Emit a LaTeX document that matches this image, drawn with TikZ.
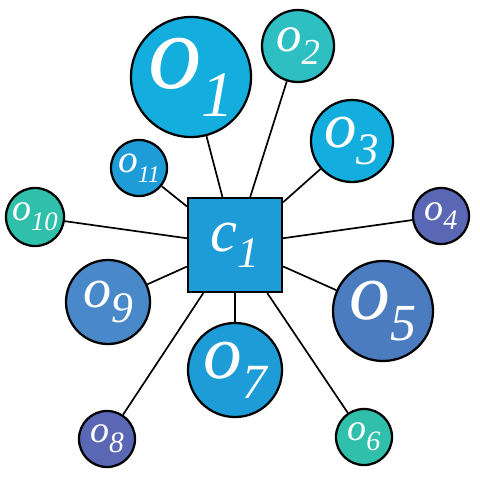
\documentclass[tikz,border=0pt]{standalone}
\usepackage{fontspec}
\setmainfont{Liberation Serif}
\usepackage{tikz}
\usetikzlibrary{positioning}

\definecolor{cyanA}{HTML}{13AEDE}
\definecolor{tealA}{HTML}{2EBFC3}
\definecolor{tealB}{HTML}{30BFAA}
\definecolor{blueA}{HTML}{1E9CD8}
\definecolor{blueB}{HTML}{4A89C9}
\definecolor{blueC}{HTML}{4B7CC0}
\definecolor{purp}{HTML}{5967B4}

% label: main size, sub size, letter, index
\newcommand{\olab}[4]{{\fontsize{#1}{#1}\selectfont\itshape #3\raisebox{-0.26em}{\fontsize{#2}{#2}\selectfont #4}}}

\begin{document}
\begin{tikzpicture}[x=0.025cm, y=-0.025cm,
      obj/.style={circle, draw=black, line width=1.6pt, text=white, inner sep=0pt, minimum size=#1*0.05cm},
      hub/.style={rectangle, draw=black, line width=1.6pt, fill=blueA, text=white, inner sep=0pt, minimum size=2.35cm},
      link/.style={line width=1.2pt, black},
    ]
    \useasboundingbox (0,0) rectangle (480,480);

    % Hub
    \node[hub] (c1) at (235,245) {\olab{43}{31}{c}{1}};

    % Objects
    \node[obj=60, fill=cyanA] (o1) at (191,77) {\olab{76}{46}{o}{1}};
    \node[obj=36, fill=tealA] (o2) at (298,46) {\olab{36}{26}{o}{2}};
    \node[obj=41, fill=cyanA] (o3) at (352,141) {\olab{46}{32}{o}{3}};
    \node[obj=28, fill=purp] (o4) at (441,216) {\olab{27}{20}{o}{4}};
    \node[obj=50, fill=blueC] (o5) at (383,311) {\olab{58}{37}{o}{5}};
    \node[obj=28, fill=tealB] (o6) at (364,437) {\olab{27}{20}{o}{6}};
    \node[obj=47, fill=blueA] (o7) at (235,370) {\olab{55}{35}{o}{7}};
    \node[obj=28, fill=purp] (o8) at (107,439) {\olab{27}{21}{o}{8}};
    \node[obj=42, fill=blueB] (o9) at (108,302) {\olab{40}{31}{o}{9}};
    \node[obj=29, fill=tealB] (o10) at (35,217) {\olab{27}{19}{o}{10}};
    \node[obj=28, fill=blueA] (o11) at (139,168) {\olab{28}{17}{o}{11}};

    % Links
    \foreach \i in {1,...,11}
      \draw[link] (c1) -- (o\i);

\end{tikzpicture}
\end{document}
